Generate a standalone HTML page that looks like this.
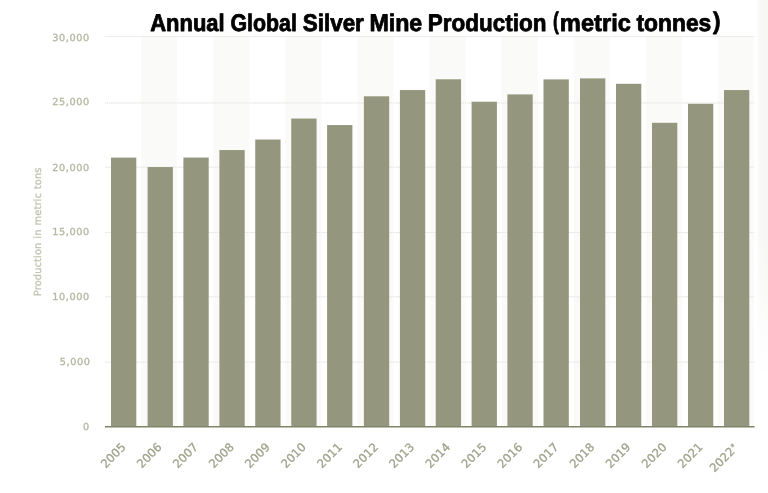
<!DOCTYPE html>
<html lang="en"><head><meta charset="utf-8"><title>Annual Global Silver Mine Production (metric tonnes)</title>
<style>
html,body{margin:0;padding:0;background:#fff;}
body{width:768px;height:493px;overflow:hidden;}
svg{display:block}
text{text-rendering:geometricPrecision}
.ttl{font-family:"Liberation Sans",sans-serif;font-weight:bold;font-size:24.0px;fill:#000;stroke:#000;stroke-width:0.8px;stroke-linejoin:round}
.yl{font-family:"DejaVu Sans","Liberation Sans",sans-serif;font-size:9.7px;letter-spacing:0.6px;fill:#b5b7a1;stroke:#b5b7a1;stroke-width:0.35px;text-anchor:end}
.xl{font-family:"DejaVu Sans","Liberation Sans",sans-serif;font-size:11.6px;fill:#a0a38c;stroke:#a0a38c;stroke-width:0.3px;text-anchor:end}
.yt{font-family:"DejaVu Sans","Liberation Sans",sans-serif;font-size:9.9px;letter-spacing:0.12px;word-spacing:0.6px;fill:#c0c2b0;stroke:#c0c2b0;stroke-width:0.25px;text-anchor:middle}
</style></head><body>
<svg width="768" height="493" viewBox="0 0 768 493">
<defs><linearGradient id="rs" x1="0" x2="1" y1="0" y2="0"><stop offset="0" stop-color="#ffffff"/><stop offset="0.35" stop-color="#f8f8f7"/><stop offset="1" stop-color="#f6f6f5"/></linearGradient>
<linearGradient id="rv" x1="0" x2="0" y1="0" y2="1"><stop offset="0" stop-color="#fff"/><stop offset="0.6" stop-color="#fff"/><stop offset="0.95" stop-color="#000"/></linearGradient>
<mask id="rm"><rect x="750" y="0" width="18" height="400" fill="url(#rv)"/></mask></defs>
<rect x="0" y="0" width="768" height="493" fill="#ffffff"/>
<rect x="756" y="0" width="12" height="400" fill="url(#rs)" mask="url(#rm)"/>

<rect x="141.06" y="36.5" width="36.06" height="390.2" fill="#fafaf9"/>
<rect x="213.18" y="36.5" width="36.06" height="390.2" fill="#fafaf9"/>
<rect x="285.30" y="36.5" width="36.06" height="390.2" fill="#fafaf9"/>
<rect x="357.42" y="36.5" width="36.06" height="390.2" fill="#fafaf9"/>
<rect x="429.54" y="36.5" width="36.06" height="390.2" fill="#fafaf9"/>
<rect x="501.66" y="36.5" width="36.06" height="390.2" fill="#fafaf9"/>
<rect x="573.78" y="36.5" width="36.06" height="390.2" fill="#fafaf9"/>
<rect x="645.90" y="36.5" width="36.06" height="390.2" fill="#fafaf9"/>
<rect x="718.02" y="36.5" width="36.06" height="390.2" fill="#fafaf9"/>
<line x1="105.0" x2="754.5" y1="362.20" y2="362.20" stroke="#f3f3f1" stroke-width="1"/>
<line x1="105.0" x2="754.5" y1="362.20" y2="362.20" stroke="#e6e6e1" stroke-width="1" stroke-dasharray="1 1"/>
<line x1="105.0" x2="754.5" y1="296.80" y2="296.80" stroke="#f3f3f1" stroke-width="1"/>
<line x1="105.0" x2="754.5" y1="296.80" y2="296.80" stroke="#e6e6e1" stroke-width="1" stroke-dasharray="1 1"/>
<line x1="105.0" x2="754.5" y1="232.50" y2="232.50" stroke="#f3f3f1" stroke-width="1"/>
<line x1="105.0" x2="754.5" y1="232.50" y2="232.50" stroke="#e6e6e1" stroke-width="1" stroke-dasharray="1 1"/>
<line x1="105.0" x2="754.5" y1="167.20" y2="167.20" stroke="#f3f3f1" stroke-width="1"/>
<line x1="105.0" x2="754.5" y1="167.20" y2="167.20" stroke="#e6e6e1" stroke-width="1" stroke-dasharray="1 1"/>
<line x1="105.0" x2="754.5" y1="103.00" y2="103.00" stroke="#f3f3f1" stroke-width="1"/>
<line x1="105.0" x2="754.5" y1="103.00" y2="103.00" stroke="#e6e6e1" stroke-width="1" stroke-dasharray="1 1"/>
<line x1="105.0" x2="754.5" y1="36.50" y2="36.50" stroke="#f3f3f1" stroke-width="1"/>
<line x1="105.0" x2="754.5" y1="36.50" y2="36.50" stroke="#e6e6e1" stroke-width="1" stroke-dasharray="1 1"/>
<rect x="111.00" y="157.6" width="25.3" height="269.10" fill="#94977d"/>
<rect x="147.60" y="167.05" width="25.3" height="259.65" fill="#94977d"/>
<rect x="183.40" y="157.55" width="25.3" height="269.15" fill="#94977d"/>
<rect x="219.40" y="150.05" width="25.3" height="276.65" fill="#94977d"/>
<rect x="255.25" y="139.55" width="25.3" height="287.15" fill="#94977d"/>
<rect x="291.25" y="118.55" width="25.3" height="308.15" fill="#94977d"/>
<rect x="327.10" y="125.05" width="25.3" height="301.65" fill="#94977d"/>
<rect x="363.90" y="96.3" width="25.3" height="330.40" fill="#94977d"/>
<rect x="399.90" y="90.05" width="25.3" height="336.65" fill="#94977d"/>
<rect x="435.75" y="79.3" width="25.3" height="347.40" fill="#94977d"/>
<rect x="471.60" y="101.7" width="25.3" height="325.00" fill="#94977d"/>
<rect x="507.40" y="94.4" width="25.3" height="332.30" fill="#94977d"/>
<rect x="543.50" y="79.4" width="25.3" height="347.30" fill="#94977d"/>
<rect x="580.00" y="78.4" width="25.3" height="348.30" fill="#94977d"/>
<rect x="616.00" y="83.8" width="25.3" height="342.90" fill="#94977d"/>
<rect x="652.00" y="122.8" width="25.3" height="303.90" fill="#94977d"/>
<rect x="688.00" y="103.8" width="25.3" height="322.90" fill="#94977d"/>
<rect x="724.00" y="90.05" width="25.3" height="336.65" fill="#94977d"/>
<line x1="105.0" x2="754.5" y1="426.7" y2="426.7" stroke="#80846a" stroke-width="1.4"/>
<text class="yl" x="89.7" y="430.10">0</text>
<text class="yl" x="90.5" y="365.05">5,000</text>
<text class="yl" x="89.7" y="300.30">10,000</text>
<text class="yl" x="89.7" y="235.15">15,000</text>
<text class="yl" x="89.7" y="170.95">20,000</text>
<text class="yl" x="89.7" y="105.10">25,000</text>
<text class="yl" x="89.7" y="41.35">30,000</text>
<text class="yt" transform="translate(41.2 231.8) rotate(-90)">Production in metric tons</text>
<text class="xl" transform="translate(126.50 447.9) rotate(-45)">2005</text>
<text class="xl" transform="translate(162.56 447.9) rotate(-45)">2006</text>
<text class="xl" transform="translate(198.62 447.9) rotate(-45)">2007</text>
<text class="xl" transform="translate(234.68 447.9) rotate(-45)">2008</text>
<text class="xl" transform="translate(270.74 447.9) rotate(-45)">2009</text>
<text class="xl" transform="translate(306.80 447.9) rotate(-45)">2010</text>
<text class="xl" transform="translate(342.86 447.9) rotate(-45)">2011</text>
<text class="xl" transform="translate(378.92 447.9) rotate(-45)">2012</text>
<text class="xl" transform="translate(414.98 447.9) rotate(-45)">2013</text>
<text class="xl" transform="translate(451.04 447.9) rotate(-45)">2014</text>
<text class="xl" transform="translate(487.10 447.9) rotate(-45)">2015</text>
<text class="xl" transform="translate(523.16 447.9) rotate(-45)">2016</text>
<text class="xl" transform="translate(559.22 447.9) rotate(-45)">2017</text>
<text class="xl" transform="translate(595.28 447.9) rotate(-45)">2018</text>
<text class="xl" transform="translate(631.34 447.9) rotate(-45)">2019</text>
<text class="xl" transform="translate(667.40 447.9) rotate(-45)">2020</text>
<text class="xl" transform="translate(703.46 447.9) rotate(-45)">2021</text>
<text class="xl" transform="translate(738.52 448.9) rotate(-45)">2022<tspan font-size="7.5" dy="-3.0" dx="0.6">*</tspan></text>
<text class="ttl" y="30.8"><tspan x="150.21" textLength="74.4" lengthAdjust="spacingAndGlyphs">Annual</tspan> <tspan x="230.54" textLength="66.3" lengthAdjust="spacingAndGlyphs">Global</tspan> <tspan x="302.68" textLength="61.2" lengthAdjust="spacingAndGlyphs">Silver</tspan> <tspan x="369.38" textLength="52.9" lengthAdjust="spacingAndGlyphs">Mine</tspan> <tspan x="427.8" textLength="118.6" lengthAdjust="spacingAndGlyphs">Production</tspan> <tspan x="552.95" dy="-2.2" textLength="5.8" lengthAdjust="spacingAndGlyphs">(</tspan><tspan x="559.85" dy="2.2" textLength="71.1" lengthAdjust="spacingAndGlyphs">metric</tspan> <tspan x="636.51" textLength="74.8" lengthAdjust="spacingAndGlyphs">tonnes</tspan><tspan x="712.88" dy="-2.2" textLength="7.5" lengthAdjust="spacingAndGlyphs">)</tspan></text>
</svg></body></html>
